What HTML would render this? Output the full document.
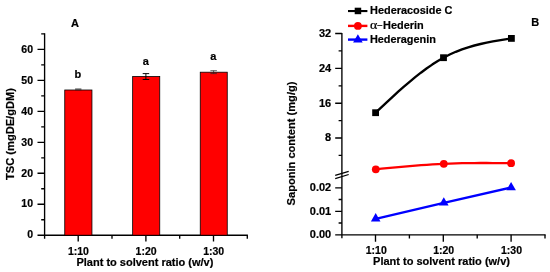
<!DOCTYPE html>
<html><head><meta charset="utf-8">
<style>
html,body{margin:0;padding:0;background:#fff;}
svg{display:block;}
text{font-family:"Liberation Sans",Arial,sans-serif;font-weight:bold;fill:#000;font-size:11px;stroke:#000;stroke-width:0.2px;}
.tk text{font-size:10.5px;}
.tkb text{font-size:11px;}
.sym{font-family:"Liberation Serif","DejaVu Serif",serif;font-weight:normal;font-size:12.5px;}
</style></head><body>
<svg width="550" height="272" viewBox="0 0 550 272">
<rect width="550" height="272" fill="#fff"/>
<!-- Panel A -->
<g stroke="#000" stroke-width="1.35" fill="none">
<path d="M44.6 33.199999999999996 V238.8 M37.5 235.2 H247.9"/>
<path d="M37.5 204.2 H44.6 M37.5 173.2 H44.6 M37.5 142.3 H44.6 M37.5 111.3 H44.6 M37.5 80.3 H44.6 M37.5 49.3 H44.6"/>
<path d="M41.2 219.7 H44.6 M41.2 188.7 H44.6 M41.2 157.8 H44.6 M41.2 126.8 H44.6 M41.2 95.8 H44.6 M41.2 64.8 H44.6 M41.2 33.8 H44.6"/>
<path d="M78.2 235.2 V241.4 M145.9 235.2 V241.4 M213.5 235.2 V241.4"/>
<path d="M112 235.2 V238.8 M179.7 235.2 V238.8 M247.3 235.2 V238.8"/>
</g>
<g fill="#ff0000" stroke="#000" stroke-width="0.8">
<rect x="64.75" y="90" width="27.2" height="145.2"/>
<rect x="132.65" y="76.5" width="27.1" height="158.7"/>
<rect x="200.25" y="72.2" width="27" height="163"/>
</g>
<g stroke="#222" stroke-width="0.7" fill="none">
<path d="M75.1 88.9 H81.4 M75.1 89.9 H81.4"/>
<path d="M145.9 73.6 V79.5 M142.7 73.6 H149.2 M142.7 79.5 H149.2" stroke="#000" stroke-width="0.95"/>
<path d="M213.6 70.7 V73.6 M210.4 70.7 H216.9 M210.4 73.6 H216.9"/>
</g>
<g text-anchor="end" class="tk">
<text x="33" y="53.1">60</text>
<text x="33" y="84.0">50</text>
<text x="33" y="114.85">40</text>
<text x="33" y="145.7">30</text>
<text x="33" y="176.5">20</text>
<text x="33" y="207.35">10</text>
<text x="33" y="238.2">0</text>
</g>
<g text-anchor="middle" class="tk">
<text x="78.4" y="254.6">1:10</text>
<text x="146.1" y="254.6">1:20</text>
<text x="213.7" y="254.6">1:30</text>
</g>
<g text-anchor="middle">
<text x="144.9" y="266.1">Plant to solvent ratio (w/v)</text>
<text x="75" y="26.8">A</text>
<text x="77.9" y="77.9">b</text>
<text x="145.8" y="64.5">a</text>
<text x="213.3" y="59.6">a</text>
<text transform="translate(13.7,134) rotate(-90)" style="font-size:11.1px">TSC (mgDE/gDM)</text>
</g>
<!-- Panel B -->
<g stroke="#000" stroke-width="1.35" fill="none">
<path d="M341.9 32.9 V238.2 M335.2 234.8 H545.6"/>
<path d="M335.2 33.5 H341.9 M335.2 68.3 H341.9 M335.2 103.2 H341.9 M335.2 138 H341.9 M335.2 187.8 H341.9 M335.2 211.3 H341.9"/>
<path d="M338.6 50.9 H341.9 M338.6 85.8 H341.9 M338.6 120.6 H341.9 M338.6 155.4 H341.9 M338.6 199.5 H341.9 M338.6 223 H341.9"/>
<path d="M375.5 234.8 V241.7 M443.3 234.8 V241.7 M511.1 234.8 V241.7"/>
<path d="M409.4 234.8 V238.4 M477.2 234.8 V238.4 M545 234.8 V238.4"/>
<path d="M335.2 175.3 L348.7 171.3 M335.2 178.6 L348.7 174.5" stroke-width="1.3"/>
</g>
<g text-anchor="end" class="tk tkb">
<text x="331.2" y="36.9">32</text>
<text x="331.2" y="71.7">24</text>
<text x="331.2" y="106.6">16</text>
<text x="331.2" y="141.4">8</text>
<text x="331.2" y="191.2">0.02</text>
<text x="331.2" y="214.7">0.01</text>
<text x="331.2" y="238.2">0.00</text>
</g>
<g text-anchor="middle" class="tk">
<text x="376.3" y="254.2">1:10</text>
<text x="443.7" y="254.2">1:20</text>
<text x="511.5" y="254.2">1:30</text>
</g>
<g text-anchor="middle">
<text x="441.5" y="265">Plant to solvent ratio (w/v)</text>
<text x="535.2" y="26.1">B</text>
<text transform="translate(294.5,143.5) rotate(-90)" style="font-size:11.1px">Saponin content (mg/g)</text>
</g>
<!-- series -->
<g fill="none" stroke-width="2.35" stroke-linejoin="round">
<path stroke="#000" d="M375.6 112.7 L381.3 107.4 L386.9 102.1 L392.6 96.9 L398.2 91.7 L403.9 86.7 L409.6 81.9 L415.2 77.2 L420.9 72.7 L426.5 68.5 L432.2 64.6 L437.8 61.0 L443.5 57.7 L449.7 54.5 L455.8 51.8 L462.0 49.4 L468.2 47.3 L474.4 45.5 L480.5 44.0 L486.7 42.6 L492.9 41.4 L499.1 40.3 L505.2 39.3 L511.4 38.4"/>
<path stroke="#ff0000" d="M375.8 169.3 L381.5 168.7 L387.1 168.2 L392.8 167.6 L398.5 167.1 L404.1 166.6 L409.8 166.1 L415.5 165.6 L421.1 165.2 L426.8 164.8 L432.5 164.4 L438.1 164.1 L443.8 163.8 L449.9 163.6 L456.0 163.4 L462.2 163.2 L468.3 163.1 L474.4 163.1 L480.5 163.0 L486.6 163.0 L492.7 163.1 L498.9 163.1 L505.0 163.1 L511.1 163.2"/>
<path stroke="#0000ff" d="M375.7 218.8 L443.8 202.8 L511.1 187.5"/>
</g>
<g fill="#000">
<rect x="372.2" y="109.3" width="6.8" height="6.8"/>
<rect x="440.1" y="54.3" width="6.8" height="6.8"/>
<rect x="508" y="35" width="6.8" height="6.8"/>
</g>
<g fill="#ff0000">
<circle cx="375.8" cy="169.3" r="3.9"/>
<circle cx="443.8" cy="163.8" r="3.9"/>
<circle cx="511.1" cy="163.2" r="3.9"/>
</g>
<g fill="#0000ff">
<path d="M375.7 213.1 L380.5 221.6 H370.9 Z"/>
<path d="M443.8 197.3 L448.6 205.6 H439 Z"/>
<path d="M511.1 182.1 L515.9 190.2 H506.3 Z"/>
</g>
<!-- legend -->
<g fill="none" stroke-width="2.4">
<path stroke="#000" d="M348 11.05 H367.4" stroke-width="2.1"/>
<path stroke="#ff0000" d="M348 25.9 H367.4"/>
<path stroke="#0000ff" d="M348 39.6 H367.4"/>
</g>
<rect x="354.7" y="7.7" width="6.5" height="6.5" fill="#000"/>
<circle cx="357.9" cy="25.9" r="3.9" fill="#ff0000"/>
<path d="M357.9 34.2 L362.7 42.4 H353.1 Z" fill="#0000ff"/>
<text x="370.1" y="14" style="font-size:10.9px">Hederacoside C</text>
<text class="sym" transform="translate(369.9,28.7) scale(1.12,1)" stroke="#000" stroke-width="0.3">α</text>
<text class="sym" x="377.4" y="28" fill="#888" stroke="none" textLength="4.6" lengthAdjust="spacingAndGlyphs">–</text>
<text x="383.1" y="28.8" style="font-size:10.9px">Hederin</text>
<text x="369.9" y="42.5" style="font-size:10.9px">Hederagenin</text>
</svg>
</body></html>
